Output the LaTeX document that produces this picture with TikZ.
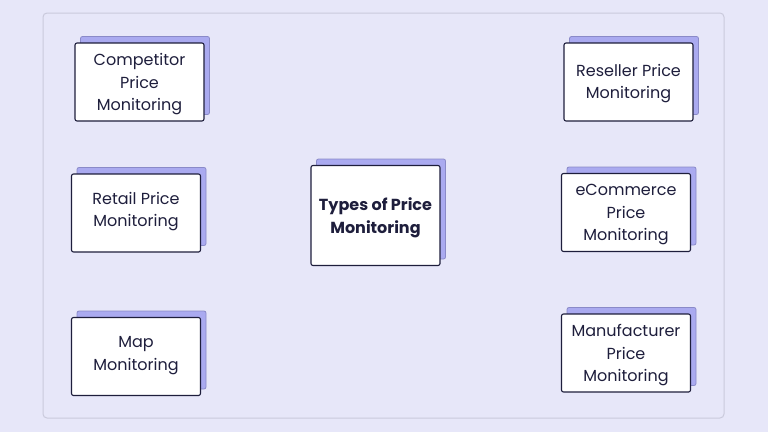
\documentclass[tikz,border=0pt]{standalone}
\usepackage{fontspec}
\setmainfont{Poppins}
\usetikzlibrary{shadows}

\definecolor{pagebg}{HTML}{E7E7F9}
\definecolor{framegray}{HTML}{CACADC}
\definecolor{inkblue}{HTML}{1E1E3C}
\definecolor{backcard}{HTML}{AAAAF0}
\definecolor{backline}{HTML}{8A8AC8}

\begin{document}
\begin{tikzpicture}[x=1pt,y=-1pt,inner sep=0pt,
    card/.style 2 args={draw=inkblue,line width=1.1pt,fill=white,rounded corners=2pt,
      minimum width=129pt,minimum height=78pt,
      copy shadow={shadow xshift=5.5pt,shadow yshift=6.5pt,fill=backcard,
        draw=backline,line width=0.8pt},
      label={[cardtext,yshift=#1]center:{#2}}},
    cardtext/.style={align=center,text=inkblue,yshift=-2.5pt,
      font=\fontsize{16}{22.5}\selectfont}]

      % Hintergrund und Rahmen
      \fill[pagebg] (0,0) rectangle (768,432);
      \useasboundingbox (0,0) rectangle (768,432);
      \draw[framegray,line width=1pt,rounded corners=4pt] (43,13) rectangle (724,418);

      % Mitte
      \node[card={0pt}{\bfseries Types of Price\\\bfseries Monitoring},minimum height=100pt]
        (types) at (375.5,215.5) {};

      % linke Spalte
      \node[card={0pt}{Competitor\\Price\\Monitoring}] (competitor) at (139.5,82) {};
      \node[card={4pt}{Retail Price\\Monitoring}] (retail) at (136,213) {};
      \node[card={3.5pt}{Map\\Monitoring}] (map) at (136,356.5) {};

      % rechte Spalte
      \node[card={1pt}{Reseller Price\\Monitoring}] (reseller) at (628.5,82) {};
      \node[card={0pt}{eCommerce\\Price\\Monitoring}] (ecommerce) at (626,212.5) {};
      \node[card={0pt}{Manufacturer\\Price\\Monitoring}] (manufacturer) at (626,353) {};
    \end{tikzpicture}
\end{document}
